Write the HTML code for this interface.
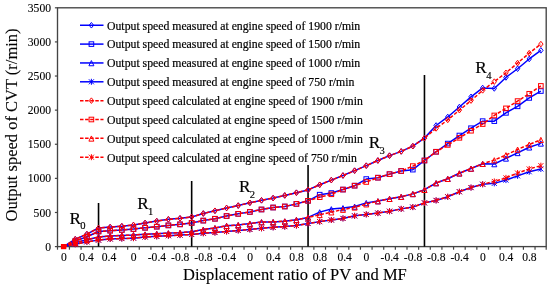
<!DOCTYPE html>
<html><head><meta charset="utf-8"><style>
html,body{margin:0;padding:0;background:#fff;}
body{width:550px;height:288px;overflow:hidden;}
svg{display:block;}
text{font-family:"Liberation Serif","Times New Roman",serif;fill:#000;stroke:#000;stroke-width:0.25px;}
.tk{font-size:11.6px;stroke-width:0.1px;}
.lg{font-size:11.75px;stroke-width:0.2px;}
.at{font-size:16.5px;stroke-width:0.12px;}
.rl{font-size:17.2px;stroke-width:0.15px;}
.rs{font-size:10.6px;}
</style></head><body>
<svg width="550" height="288" viewBox="0 0 550 288">
<rect x="57.5" y="7.8" width="488.70000000000005" height="238.79999999999998" fill="none" stroke="#444" stroke-width="1.35"/>
<line x1="54.9" y1="246.60" x2="57.5" y2="246.60" stroke="#444" stroke-width="1.2"/>
<text x="51" y="250.70" text-anchor="end" class="tk">0</text>
<line x1="54.9" y1="212.49" x2="57.5" y2="212.49" stroke="#444" stroke-width="1.2"/>
<text x="51" y="216.59" text-anchor="end" class="tk">500</text>
<line x1="54.9" y1="178.37" x2="57.5" y2="178.37" stroke="#444" stroke-width="1.2"/>
<text x="51" y="182.47" text-anchor="end" class="tk">1000</text>
<line x1="54.9" y1="144.26" x2="57.5" y2="144.26" stroke="#444" stroke-width="1.2"/>
<text x="51" y="148.36" text-anchor="end" class="tk">1500</text>
<line x1="54.9" y1="110.14" x2="57.5" y2="110.14" stroke="#444" stroke-width="1.2"/>
<text x="51" y="114.24" text-anchor="end" class="tk">2000</text>
<line x1="54.9" y1="76.03" x2="57.5" y2="76.03" stroke="#444" stroke-width="1.2"/>
<text x="51" y="80.13" text-anchor="end" class="tk">2500</text>
<line x1="54.9" y1="41.91" x2="57.5" y2="41.91" stroke="#444" stroke-width="1.2"/>
<text x="51" y="46.01" text-anchor="end" class="tk">3000</text>
<line x1="54.9" y1="7.80" x2="57.5" y2="7.80" stroke="#444" stroke-width="1.2"/>
<text x="51" y="11.90" text-anchor="end" class="tk">3500</text>
<line x1="69.44" y1="246.6" x2="69.44" y2="249.7" stroke="#444" stroke-width="1.2"/>
<line x1="81.08" y1="246.6" x2="81.08" y2="249.7" stroke="#444" stroke-width="1.2"/>
<line x1="92.72" y1="246.6" x2="92.72" y2="249.7" stroke="#444" stroke-width="1.2"/>
<line x1="104.36" y1="246.6" x2="104.36" y2="249.7" stroke="#444" stroke-width="1.2"/>
<line x1="116.00" y1="246.6" x2="116.00" y2="249.7" stroke="#444" stroke-width="1.2"/>
<line x1="127.64" y1="246.6" x2="127.64" y2="249.7" stroke="#444" stroke-width="1.2"/>
<line x1="139.28" y1="246.6" x2="139.28" y2="249.7" stroke="#444" stroke-width="1.2"/>
<line x1="150.92" y1="246.6" x2="150.92" y2="249.7" stroke="#444" stroke-width="1.2"/>
<line x1="162.56" y1="246.6" x2="162.56" y2="249.7" stroke="#444" stroke-width="1.2"/>
<line x1="174.20" y1="246.6" x2="174.20" y2="249.7" stroke="#444" stroke-width="1.2"/>
<line x1="185.84" y1="246.6" x2="185.84" y2="249.7" stroke="#444" stroke-width="1.2"/>
<line x1="197.48" y1="246.6" x2="197.48" y2="249.7" stroke="#444" stroke-width="1.2"/>
<line x1="209.12" y1="246.6" x2="209.12" y2="249.7" stroke="#444" stroke-width="1.2"/>
<line x1="220.76" y1="246.6" x2="220.76" y2="249.7" stroke="#444" stroke-width="1.2"/>
<line x1="232.40" y1="246.6" x2="232.40" y2="249.7" stroke="#444" stroke-width="1.2"/>
<line x1="244.04" y1="246.6" x2="244.04" y2="249.7" stroke="#444" stroke-width="1.2"/>
<line x1="255.68" y1="246.6" x2="255.68" y2="249.7" stroke="#444" stroke-width="1.2"/>
<line x1="267.32" y1="246.6" x2="267.32" y2="249.7" stroke="#444" stroke-width="1.2"/>
<line x1="278.96" y1="246.6" x2="278.96" y2="249.7" stroke="#444" stroke-width="1.2"/>
<line x1="290.60" y1="246.6" x2="290.60" y2="249.7" stroke="#444" stroke-width="1.2"/>
<line x1="302.24" y1="246.6" x2="302.24" y2="249.7" stroke="#444" stroke-width="1.2"/>
<line x1="313.88" y1="246.6" x2="313.88" y2="249.7" stroke="#444" stroke-width="1.2"/>
<line x1="325.52" y1="246.6" x2="325.52" y2="249.7" stroke="#444" stroke-width="1.2"/>
<line x1="337.16" y1="246.6" x2="337.16" y2="249.7" stroke="#444" stroke-width="1.2"/>
<line x1="348.80" y1="246.6" x2="348.80" y2="249.7" stroke="#444" stroke-width="1.2"/>
<line x1="360.44" y1="246.6" x2="360.44" y2="249.7" stroke="#444" stroke-width="1.2"/>
<line x1="372.08" y1="246.6" x2="372.08" y2="249.7" stroke="#444" stroke-width="1.2"/>
<line x1="383.72" y1="246.6" x2="383.72" y2="249.7" stroke="#444" stroke-width="1.2"/>
<line x1="395.36" y1="246.6" x2="395.36" y2="249.7" stroke="#444" stroke-width="1.2"/>
<line x1="407.00" y1="246.6" x2="407.00" y2="249.7" stroke="#444" stroke-width="1.2"/>
<line x1="418.64" y1="246.6" x2="418.64" y2="249.7" stroke="#444" stroke-width="1.2"/>
<line x1="430.28" y1="246.6" x2="430.28" y2="249.7" stroke="#444" stroke-width="1.2"/>
<line x1="441.92" y1="246.6" x2="441.92" y2="249.7" stroke="#444" stroke-width="1.2"/>
<line x1="453.56" y1="246.6" x2="453.56" y2="249.7" stroke="#444" stroke-width="1.2"/>
<line x1="465.20" y1="246.6" x2="465.20" y2="249.7" stroke="#444" stroke-width="1.2"/>
<line x1="476.84" y1="246.6" x2="476.84" y2="249.7" stroke="#444" stroke-width="1.2"/>
<line x1="488.48" y1="246.6" x2="488.48" y2="249.7" stroke="#444" stroke-width="1.2"/>
<line x1="500.12" y1="246.6" x2="500.12" y2="249.7" stroke="#444" stroke-width="1.2"/>
<line x1="511.76" y1="246.6" x2="511.76" y2="249.7" stroke="#444" stroke-width="1.2"/>
<line x1="523.40" y1="246.6" x2="523.40" y2="249.7" stroke="#444" stroke-width="1.2"/>
<line x1="535.04" y1="246.6" x2="535.04" y2="249.7" stroke="#444" stroke-width="1.2"/>
<line x1="57.50" y1="246.6" x2="57.50" y2="249.7" stroke="#444" stroke-width="1.2"/>
<line x1="546.20" y1="246.6" x2="546.20" y2="249.7" stroke="#444" stroke-width="1.2"/>
<text x="63.82" y="261.4" text-anchor="middle" class="tk">0</text>
<text x="86.50" y="261.4" text-anchor="middle" class="tk">0.4</text>
<text x="108.98" y="261.4" text-anchor="middle" class="tk">0.4</text>
<text x="133.66" y="261.4" text-anchor="middle" class="tk">0</text>
<text x="156.94" y="261.4" text-anchor="middle" class="tk">-0.4</text>
<text x="180.22" y="261.4" text-anchor="middle" class="tk">-0.8</text>
<text x="203.50" y="261.4" text-anchor="middle" class="tk">-0.8</text>
<text x="226.78" y="261.4" text-anchor="middle" class="tk">-0.4</text>
<text x="250.06" y="261.4" text-anchor="middle" class="tk">0</text>
<text x="273.34" y="261.4" text-anchor="middle" class="tk">0.4</text>
<text x="296.62" y="261.4" text-anchor="middle" class="tk">0.8</text>
<text x="319.90" y="261.4" text-anchor="middle" class="tk">0.8</text>
<text x="344.68" y="261.4" text-anchor="middle" class="tk">0.4</text>
<text x="366.46" y="261.4" text-anchor="middle" class="tk">0</text>
<text x="389.74" y="261.4" text-anchor="middle" class="tk">-0.4</text>
<text x="413.02" y="261.4" text-anchor="middle" class="tk">-0.8</text>
<text x="436.30" y="261.4" text-anchor="middle" class="tk">-0.8</text>
<text x="459.58" y="261.4" text-anchor="middle" class="tk">-0.4</text>
<text x="482.86" y="261.4" text-anchor="middle" class="tk">0</text>
<text x="506.14" y="261.4" text-anchor="middle" class="tk">0.4</text>
<text x="529.42" y="261.4" text-anchor="middle" class="tk">0.8</text>
<line x1="98.54" y1="203" x2="98.54" y2="246.6" stroke="#000" stroke-width="1.6"/>
<line x1="191.66" y1="181" x2="191.66" y2="246.6" stroke="#000" stroke-width="1.6"/>
<line x1="308.06" y1="165" x2="308.06" y2="246.6" stroke="#000" stroke-width="1.6"/>
<line x1="424.46" y1="75" x2="424.46" y2="246.6" stroke="#000" stroke-width="1.6"/>
<text x="69.4" y="223.5" class="rl">R<tspan class="rs" dx="-0.6" dy="5.7">0</tspan></text>
<text x="137.20000000000002" y="209.3" class="rl">R<tspan class="rs" dx="-0.6" dy="5.7">1</tspan></text>
<text x="238.9" y="191.9" class="rl">R<tspan class="rs" dx="-0.6" dy="5.7">2</tspan></text>
<text x="368.7" y="148.1" class="rl">R<tspan class="rs" dx="-0.6" dy="5.7">3</tspan></text>
<text x="475.29999999999995" y="73.2" class="rl">R<tspan class="rs" dx="-0.6" dy="5.7">4</tspan></text>
<polyline points="63.62,246.60 75.26,244.21 86.90,241.82 98.54,240.12 110.18,238.96 121.82,238.55 133.46,238.14 145.10,236.91 156.74,236.37 168.38,235.68 180.02,235.07 191.66,234.52 203.30,233.23 214.94,232.54 226.58,231.45 238.22,230.43 249.86,229.41 261.50,228.31 273.14,227.36 284.78,226.61 296.42,225.52 308.06,223.54 319.70,221.63 331.34,219.99 342.98,218.42 354.62,215.83 366.26,214.40 377.90,213.10 389.54,211.26 401.18,208.87 412.82,207.10 424.46,202.87 436.10,200.41 447.74,196.79 459.38,191.74 471.02,187.58 482.66,184.24 494.30,183.35 505.94,180.08 517.58,175.85 529.22,171.75 540.86,168.96" fill="none" stroke="#0000ff" stroke-width="1.5" stroke-linejoin="round"/>
<path d="M72.76 241.71L77.76 246.71M77.76 241.71L72.76 246.71M75.26 241.21L75.26 247.21" fill="none" stroke="#0000ff" stroke-width="1.0"/>
<path d="M84.40 239.32L89.40 244.32M89.40 239.32L84.40 244.32M86.90 238.82L86.90 244.82" fill="none" stroke="#0000ff" stroke-width="1.0"/>
<path d="M96.04 237.62L101.04 242.62M101.04 237.62L96.04 242.62M98.54 237.12L98.54 243.12" fill="none" stroke="#0000ff" stroke-width="1.0"/>
<path d="M107.68 236.46L112.68 241.46M112.68 236.46L107.68 241.46M110.18 235.96L110.18 241.96" fill="none" stroke="#0000ff" stroke-width="1.0"/>
<path d="M119.32 236.05L124.32 241.05M124.32 236.05L119.32 241.05M121.82 235.55L121.82 241.55" fill="none" stroke="#0000ff" stroke-width="1.0"/>
<path d="M130.96 235.64L135.96 240.64M135.96 235.64L130.96 240.64M133.46 235.14L133.46 241.14" fill="none" stroke="#0000ff" stroke-width="1.0"/>
<path d="M142.60 234.41L147.60 239.41M147.60 234.41L142.60 239.41M145.10 233.91L145.10 239.91" fill="none" stroke="#0000ff" stroke-width="1.0"/>
<path d="M154.24 233.87L159.24 238.87M159.24 233.87L154.24 238.87M156.74 233.37L156.74 239.37" fill="none" stroke="#0000ff" stroke-width="1.0"/>
<path d="M165.88 233.18L170.88 238.18M170.88 233.18L165.88 238.18M168.38 232.68L168.38 238.68" fill="none" stroke="#0000ff" stroke-width="1.0"/>
<path d="M177.52 232.57L182.52 237.57M182.52 232.57L177.52 237.57M180.02 232.07L180.02 238.07" fill="none" stroke="#0000ff" stroke-width="1.0"/>
<path d="M189.16 232.02L194.16 237.02M194.16 232.02L189.16 237.02M191.66 231.52L191.66 237.52" fill="none" stroke="#0000ff" stroke-width="1.0"/>
<path d="M200.80 230.73L205.80 235.73M205.80 230.73L200.80 235.73M203.30 230.23L203.30 236.23" fill="none" stroke="#0000ff" stroke-width="1.0"/>
<path d="M212.44 230.04L217.44 235.04M217.44 230.04L212.44 235.04M214.94 229.54L214.94 235.54" fill="none" stroke="#0000ff" stroke-width="1.0"/>
<path d="M224.08 228.95L229.08 233.95M229.08 228.95L224.08 233.95M226.58 228.45L226.58 234.45" fill="none" stroke="#0000ff" stroke-width="1.0"/>
<path d="M235.72 227.93L240.72 232.93M240.72 227.93L235.72 232.93M238.22 227.43L238.22 233.43" fill="none" stroke="#0000ff" stroke-width="1.0"/>
<path d="M247.36 226.91L252.36 231.91M252.36 226.91L247.36 231.91M249.86 226.41L249.86 232.41" fill="none" stroke="#0000ff" stroke-width="1.0"/>
<path d="M259.00 225.81L264.00 230.81M264.00 225.81L259.00 230.81M261.50 225.31L261.50 231.31" fill="none" stroke="#0000ff" stroke-width="1.0"/>
<path d="M270.64 224.86L275.64 229.86M275.64 224.86L270.64 229.86M273.14 224.36L273.14 230.36" fill="none" stroke="#0000ff" stroke-width="1.0"/>
<path d="M282.28 224.11L287.28 229.11M287.28 224.11L282.28 229.11M284.78 223.61L284.78 229.61" fill="none" stroke="#0000ff" stroke-width="1.0"/>
<path d="M293.92 223.02L298.92 228.02M298.92 223.02L293.92 228.02M296.42 222.52L296.42 228.52" fill="none" stroke="#0000ff" stroke-width="1.0"/>
<path d="M305.56 221.04L310.56 226.04M310.56 221.04L305.56 226.04M308.06 220.54L308.06 226.54" fill="none" stroke="#0000ff" stroke-width="1.0"/>
<path d="M317.20 219.13L322.20 224.13M322.20 219.13L317.20 224.13M319.70 218.63L319.70 224.63" fill="none" stroke="#0000ff" stroke-width="1.0"/>
<path d="M328.84 217.49L333.84 222.49M333.84 217.49L328.84 222.49M331.34 216.99L331.34 222.99" fill="none" stroke="#0000ff" stroke-width="1.0"/>
<path d="M340.48 215.92L345.48 220.92M345.48 215.92L340.48 220.92M342.98 215.42L342.98 221.42" fill="none" stroke="#0000ff" stroke-width="1.0"/>
<path d="M352.12 213.33L357.12 218.33M357.12 213.33L352.12 218.33M354.62 212.83L354.62 218.83" fill="none" stroke="#0000ff" stroke-width="1.0"/>
<path d="M363.76 211.90L368.76 216.90M368.76 211.90L363.76 216.90M366.26 211.40L366.26 217.40" fill="none" stroke="#0000ff" stroke-width="1.0"/>
<path d="M375.40 210.60L380.40 215.60M380.40 210.60L375.40 215.60M377.90 210.10L377.90 216.10" fill="none" stroke="#0000ff" stroke-width="1.0"/>
<path d="M387.04 208.76L392.04 213.76M392.04 208.76L387.04 213.76M389.54 208.26L389.54 214.26" fill="none" stroke="#0000ff" stroke-width="1.0"/>
<path d="M398.68 206.37L403.68 211.37M403.68 206.37L398.68 211.37M401.18 205.87L401.18 211.87" fill="none" stroke="#0000ff" stroke-width="1.0"/>
<path d="M410.32 204.60L415.32 209.60M415.32 204.60L410.32 209.60M412.82 204.10L412.82 210.10" fill="none" stroke="#0000ff" stroke-width="1.0"/>
<path d="M421.96 200.37L426.96 205.37M426.96 200.37L421.96 205.37M424.46 199.87L424.46 205.87" fill="none" stroke="#0000ff" stroke-width="1.0"/>
<path d="M433.60 197.91L438.60 202.91M438.60 197.91L433.60 202.91M436.10 197.41L436.10 203.41" fill="none" stroke="#0000ff" stroke-width="1.0"/>
<path d="M445.24 194.29L450.24 199.29M450.24 194.29L445.24 199.29M447.74 193.79L447.74 199.79" fill="none" stroke="#0000ff" stroke-width="1.0"/>
<path d="M456.88 189.24L461.88 194.24M461.88 189.24L456.88 194.24M459.38 188.74L459.38 194.74" fill="none" stroke="#0000ff" stroke-width="1.0"/>
<path d="M468.52 185.08L473.52 190.08M473.52 185.08L468.52 190.08M471.02 184.58L471.02 190.58" fill="none" stroke="#0000ff" stroke-width="1.0"/>
<path d="M480.16 181.74L485.16 186.74M485.16 181.74L480.16 186.74M482.66 181.24L482.66 187.24" fill="none" stroke="#0000ff" stroke-width="1.0"/>
<path d="M491.80 180.85L496.80 185.85M496.80 180.85L491.80 185.85M494.30 180.35L494.30 186.35" fill="none" stroke="#0000ff" stroke-width="1.0"/>
<path d="M503.44 177.58L508.44 182.58M508.44 177.58L503.44 182.58M505.94 177.08L505.94 183.08" fill="none" stroke="#0000ff" stroke-width="1.0"/>
<path d="M515.08 173.35L520.08 178.35M520.08 173.35L515.08 178.35M517.58 172.85L517.58 178.85" fill="none" stroke="#0000ff" stroke-width="1.0"/>
<path d="M526.72 169.25L531.72 174.25M531.72 169.25L526.72 174.25M529.22 168.75L529.22 174.75" fill="none" stroke="#0000ff" stroke-width="1.0"/>
<path d="M538.36 166.46L543.36 171.46M543.36 166.46L538.36 171.46M540.86 165.96L540.86 171.96" fill="none" stroke="#0000ff" stroke-width="1.0"/>
<polyline points="63.62,246.60 75.26,242.85 86.90,239.78 98.54,236.98 110.18,235.89 121.82,235.41 133.46,235.00 145.10,234.32 156.74,233.70 168.38,233.09 180.02,232.68 191.66,231.73 203.30,229.54 214.94,227.97 226.58,225.72 238.22,224.90 249.86,223.61 261.50,222.04 273.14,221.90 284.78,221.22 296.42,219.79 308.06,217.40 319.70,212.14 331.34,209.07 342.98,207.98 354.62,206.48 366.26,202.87 377.90,201.09 389.54,198.70 401.18,196.66 412.82,193.86 424.46,189.70 436.10,183.01 447.74,178.71 459.38,173.25 471.02,168.48 482.66,163.70 494.30,163.98 505.94,158.38 517.58,152.85 529.22,147.26 540.86,143.37" fill="none" stroke="#0000ff" stroke-width="1.5" stroke-linejoin="round"/>
<path d="M75.26 240.45L77.76 245.65L72.76 245.65Z" fill="none" stroke="#0000ff" stroke-width="1.0"/>
<path d="M86.90 237.38L89.40 242.58L84.40 242.58Z" fill="none" stroke="#0000ff" stroke-width="1.0"/>
<path d="M98.54 234.58L101.04 239.78L96.04 239.78Z" fill="none" stroke="#0000ff" stroke-width="1.0"/>
<path d="M110.18 233.49L112.68 238.69L107.68 238.69Z" fill="none" stroke="#0000ff" stroke-width="1.0"/>
<path d="M121.82 233.01L124.32 238.21L119.32 238.21Z" fill="none" stroke="#0000ff" stroke-width="1.0"/>
<path d="M133.46 232.60L135.96 237.80L130.96 237.80Z" fill="none" stroke="#0000ff" stroke-width="1.0"/>
<path d="M145.10 231.92L147.60 237.12L142.60 237.12Z" fill="none" stroke="#0000ff" stroke-width="1.0"/>
<path d="M156.74 231.30L159.24 236.50L154.24 236.50Z" fill="none" stroke="#0000ff" stroke-width="1.0"/>
<path d="M168.38 230.69L170.88 235.89L165.88 235.89Z" fill="none" stroke="#0000ff" stroke-width="1.0"/>
<path d="M180.02 230.28L182.52 235.48L177.52 235.48Z" fill="none" stroke="#0000ff" stroke-width="1.0"/>
<path d="M191.66 229.33L194.16 234.53L189.16 234.53Z" fill="none" stroke="#0000ff" stroke-width="1.0"/>
<path d="M203.30 227.14L205.80 232.34L200.80 232.34Z" fill="none" stroke="#0000ff" stroke-width="1.0"/>
<path d="M214.94 225.57L217.44 230.77L212.44 230.77Z" fill="none" stroke="#0000ff" stroke-width="1.0"/>
<path d="M226.58 223.32L229.08 228.52L224.08 228.52Z" fill="none" stroke="#0000ff" stroke-width="1.0"/>
<path d="M238.22 222.50L240.72 227.70L235.72 227.70Z" fill="none" stroke="#0000ff" stroke-width="1.0"/>
<path d="M249.86 221.21L252.36 226.41L247.36 226.41Z" fill="none" stroke="#0000ff" stroke-width="1.0"/>
<path d="M261.50 219.64L264.00 224.84L259.00 224.84Z" fill="none" stroke="#0000ff" stroke-width="1.0"/>
<path d="M273.14 219.50L275.64 224.70L270.64 224.70Z" fill="none" stroke="#0000ff" stroke-width="1.0"/>
<path d="M284.78 218.82L287.28 224.02L282.28 224.02Z" fill="none" stroke="#0000ff" stroke-width="1.0"/>
<path d="M296.42 217.39L298.92 222.59L293.92 222.59Z" fill="none" stroke="#0000ff" stroke-width="1.0"/>
<path d="M308.06 215.00L310.56 220.20L305.56 220.20Z" fill="none" stroke="#0000ff" stroke-width="1.0"/>
<path d="M319.70 209.74L322.20 214.94L317.20 214.94Z" fill="none" stroke="#0000ff" stroke-width="1.0"/>
<path d="M331.34 206.67L333.84 211.87L328.84 211.87Z" fill="none" stroke="#0000ff" stroke-width="1.0"/>
<path d="M342.98 205.58L345.48 210.78L340.48 210.78Z" fill="none" stroke="#0000ff" stroke-width="1.0"/>
<path d="M354.62 204.08L357.12 209.28L352.12 209.28Z" fill="none" stroke="#0000ff" stroke-width="1.0"/>
<path d="M366.26 200.47L368.76 205.67L363.76 205.67Z" fill="none" stroke="#0000ff" stroke-width="1.0"/>
<path d="M377.90 198.69L380.40 203.89L375.40 203.89Z" fill="none" stroke="#0000ff" stroke-width="1.0"/>
<path d="M389.54 196.30L392.04 201.50L387.04 201.50Z" fill="none" stroke="#0000ff" stroke-width="1.0"/>
<path d="M401.18 194.26L403.68 199.46L398.68 199.46Z" fill="none" stroke="#0000ff" stroke-width="1.0"/>
<path d="M412.82 191.46L415.32 196.66L410.32 196.66Z" fill="none" stroke="#0000ff" stroke-width="1.0"/>
<path d="M424.46 187.30L426.96 192.50L421.96 192.50Z" fill="none" stroke="#0000ff" stroke-width="1.0"/>
<path d="M436.10 180.61L438.60 185.81L433.60 185.81Z" fill="none" stroke="#0000ff" stroke-width="1.0"/>
<path d="M447.74 176.31L450.24 181.51L445.24 181.51Z" fill="none" stroke="#0000ff" stroke-width="1.0"/>
<path d="M459.38 170.85L461.88 176.05L456.88 176.05Z" fill="none" stroke="#0000ff" stroke-width="1.0"/>
<path d="M471.02 166.08L473.52 171.28L468.52 171.28Z" fill="none" stroke="#0000ff" stroke-width="1.0"/>
<path d="M482.66 161.30L485.16 166.50L480.16 166.50Z" fill="none" stroke="#0000ff" stroke-width="1.0"/>
<path d="M494.30 161.58L496.80 166.78L491.80 166.78Z" fill="none" stroke="#0000ff" stroke-width="1.0"/>
<path d="M505.94 155.98L508.44 161.18L503.44 161.18Z" fill="none" stroke="#0000ff" stroke-width="1.0"/>
<path d="M517.58 150.45L520.08 155.65L515.08 155.65Z" fill="none" stroke="#0000ff" stroke-width="1.0"/>
<path d="M529.22 144.86L531.72 150.06L526.72 150.06Z" fill="none" stroke="#0000ff" stroke-width="1.0"/>
<path d="M540.86 140.97L543.36 146.17L538.36 146.17Z" fill="none" stroke="#0000ff" stroke-width="1.0"/>
<polyline points="63.62,246.60 75.26,241.14 86.90,236.71 98.54,231.45 110.18,230.63 121.82,229.95 133.46,229.07 145.10,227.77 156.74,226.68 168.38,225.38 180.02,224.36 191.66,222.92 203.30,220.60 214.94,218.76 226.58,216.03 238.22,213.85 249.86,211.94 261.50,209.48 273.14,207.51 284.78,206.48 296.42,203.89 308.06,200.82 319.70,194.68 331.34,193.04 342.98,189.56 354.62,185.67 366.26,179.05 377.90,177.69 389.54,174.14 401.18,171.00 412.82,169.64 424.46,160.50 436.10,151.76 447.74,143.57 459.38,135.52 471.02,128.22 482.66,121.13 494.30,121.13 505.94,112.87 517.58,106.32 529.22,97.93 540.86,91.04" fill="none" stroke="#0000ff" stroke-width="1.5" stroke-linejoin="round"/>
<rect x="72.96" y="238.84" width="4.60" height="4.60" fill="none" stroke="#0000ff" stroke-width="1.0"/>
<rect x="84.60" y="234.41" width="4.60" height="4.60" fill="none" stroke="#0000ff" stroke-width="1.0"/>
<rect x="96.24" y="229.15" width="4.60" height="4.60" fill="none" stroke="#0000ff" stroke-width="1.0"/>
<rect x="107.88" y="228.33" width="4.60" height="4.60" fill="none" stroke="#0000ff" stroke-width="1.0"/>
<rect x="119.52" y="227.65" width="4.60" height="4.60" fill="none" stroke="#0000ff" stroke-width="1.0"/>
<rect x="131.16" y="226.77" width="4.60" height="4.60" fill="none" stroke="#0000ff" stroke-width="1.0"/>
<rect x="142.80" y="225.47" width="4.60" height="4.60" fill="none" stroke="#0000ff" stroke-width="1.0"/>
<rect x="154.44" y="224.38" width="4.60" height="4.60" fill="none" stroke="#0000ff" stroke-width="1.0"/>
<rect x="166.08" y="223.08" width="4.60" height="4.60" fill="none" stroke="#0000ff" stroke-width="1.0"/>
<rect x="177.72" y="222.06" width="4.60" height="4.60" fill="none" stroke="#0000ff" stroke-width="1.0"/>
<rect x="189.36" y="220.62" width="4.60" height="4.60" fill="none" stroke="#0000ff" stroke-width="1.0"/>
<rect x="201.00" y="218.30" width="4.60" height="4.60" fill="none" stroke="#0000ff" stroke-width="1.0"/>
<rect x="212.64" y="216.46" width="4.60" height="4.60" fill="none" stroke="#0000ff" stroke-width="1.0"/>
<rect x="224.28" y="213.73" width="4.60" height="4.60" fill="none" stroke="#0000ff" stroke-width="1.0"/>
<rect x="235.92" y="211.55" width="4.60" height="4.60" fill="none" stroke="#0000ff" stroke-width="1.0"/>
<rect x="247.56" y="209.64" width="4.60" height="4.60" fill="none" stroke="#0000ff" stroke-width="1.0"/>
<rect x="259.20" y="207.18" width="4.60" height="4.60" fill="none" stroke="#0000ff" stroke-width="1.0"/>
<rect x="270.84" y="205.21" width="4.60" height="4.60" fill="none" stroke="#0000ff" stroke-width="1.0"/>
<rect x="282.48" y="204.18" width="4.60" height="4.60" fill="none" stroke="#0000ff" stroke-width="1.0"/>
<rect x="294.12" y="201.59" width="4.60" height="4.60" fill="none" stroke="#0000ff" stroke-width="1.0"/>
<rect x="305.76" y="198.52" width="4.60" height="4.60" fill="none" stroke="#0000ff" stroke-width="1.0"/>
<rect x="317.40" y="192.38" width="4.60" height="4.60" fill="none" stroke="#0000ff" stroke-width="1.0"/>
<rect x="329.04" y="190.74" width="4.60" height="4.60" fill="none" stroke="#0000ff" stroke-width="1.0"/>
<rect x="340.68" y="187.26" width="4.60" height="4.60" fill="none" stroke="#0000ff" stroke-width="1.0"/>
<rect x="352.32" y="183.37" width="4.60" height="4.60" fill="none" stroke="#0000ff" stroke-width="1.0"/>
<rect x="363.96" y="176.75" width="4.60" height="4.60" fill="none" stroke="#0000ff" stroke-width="1.0"/>
<rect x="375.60" y="175.39" width="4.60" height="4.60" fill="none" stroke="#0000ff" stroke-width="1.0"/>
<rect x="387.24" y="171.84" width="4.60" height="4.60" fill="none" stroke="#0000ff" stroke-width="1.0"/>
<rect x="398.88" y="168.70" width="4.60" height="4.60" fill="none" stroke="#0000ff" stroke-width="1.0"/>
<rect x="410.52" y="167.34" width="4.60" height="4.60" fill="none" stroke="#0000ff" stroke-width="1.0"/>
<rect x="422.16" y="158.20" width="4.60" height="4.60" fill="none" stroke="#0000ff" stroke-width="1.0"/>
<rect x="433.80" y="149.46" width="4.60" height="4.60" fill="none" stroke="#0000ff" stroke-width="1.0"/>
<rect x="445.44" y="141.27" width="4.60" height="4.60" fill="none" stroke="#0000ff" stroke-width="1.0"/>
<rect x="457.08" y="133.22" width="4.60" height="4.60" fill="none" stroke="#0000ff" stroke-width="1.0"/>
<rect x="468.72" y="125.92" width="4.60" height="4.60" fill="none" stroke="#0000ff" stroke-width="1.0"/>
<rect x="480.36" y="118.83" width="4.60" height="4.60" fill="none" stroke="#0000ff" stroke-width="1.0"/>
<rect x="492.00" y="118.83" width="4.60" height="4.60" fill="none" stroke="#0000ff" stroke-width="1.0"/>
<rect x="503.64" y="110.57" width="4.60" height="4.60" fill="none" stroke="#0000ff" stroke-width="1.0"/>
<rect x="515.28" y="104.02" width="4.60" height="4.60" fill="none" stroke="#0000ff" stroke-width="1.0"/>
<rect x="526.92" y="95.63" width="4.60" height="4.60" fill="none" stroke="#0000ff" stroke-width="1.0"/>
<rect x="538.56" y="88.74" width="4.60" height="4.60" fill="none" stroke="#0000ff" stroke-width="1.0"/>
<polyline points="63.62,246.60 75.26,239.23 86.90,234.11 98.54,228.04 110.18,227.09 121.82,226.20 133.46,225.04 145.10,222.99 156.74,221.08 168.38,219.31 180.02,218.35 191.66,216.92 203.30,213.51 214.94,210.78 226.58,207.98 238.22,205.59 249.86,202.80 261.50,200.34 273.14,198.09 284.78,195.43 296.42,192.70 308.06,189.90 319.70,184.78 331.34,180.08 342.98,175.51 354.62,170.66 366.26,165.68 377.90,160.50 389.54,155.65 401.18,151.42 412.82,146.17 424.46,138.12 436.10,125.49 447.74,116.97 459.38,107.00 471.02,96.84 482.66,87.97 494.30,88.45 505.94,77.46 517.58,68.73 529.22,58.97 540.86,50.37" fill="none" stroke="#0000ff" stroke-width="1.5" stroke-linejoin="round"/>
<path d="M75.26 236.43L77.46 239.23L75.26 242.03L73.06 239.23Z" fill="none" stroke="#0000ff" stroke-width="1.0"/>
<path d="M86.90 231.31L89.10 234.11L86.90 236.91L84.70 234.11Z" fill="none" stroke="#0000ff" stroke-width="1.0"/>
<path d="M98.54 225.24L100.74 228.04L98.54 230.84L96.34 228.04Z" fill="none" stroke="#0000ff" stroke-width="1.0"/>
<path d="M110.18 224.29L112.38 227.09L110.18 229.89L107.98 227.09Z" fill="none" stroke="#0000ff" stroke-width="1.0"/>
<path d="M121.82 223.40L124.02 226.20L121.82 229.00L119.62 226.20Z" fill="none" stroke="#0000ff" stroke-width="1.0"/>
<path d="M133.46 222.24L135.66 225.04L133.46 227.84L131.26 225.04Z" fill="none" stroke="#0000ff" stroke-width="1.0"/>
<path d="M145.10 220.19L147.30 222.99L145.10 225.79L142.90 222.99Z" fill="none" stroke="#0000ff" stroke-width="1.0"/>
<path d="M156.74 218.28L158.94 221.08L156.74 223.88L154.54 221.08Z" fill="none" stroke="#0000ff" stroke-width="1.0"/>
<path d="M168.38 216.51L170.58 219.31L168.38 222.11L166.18 219.31Z" fill="none" stroke="#0000ff" stroke-width="1.0"/>
<path d="M180.02 215.55L182.22 218.35L180.02 221.15L177.82 218.35Z" fill="none" stroke="#0000ff" stroke-width="1.0"/>
<path d="M191.66 214.12L193.86 216.92L191.66 219.72L189.46 216.92Z" fill="none" stroke="#0000ff" stroke-width="1.0"/>
<path d="M203.30 210.71L205.50 213.51L203.30 216.31L201.10 213.51Z" fill="none" stroke="#0000ff" stroke-width="1.0"/>
<path d="M214.94 207.98L217.14 210.78L214.94 213.58L212.74 210.78Z" fill="none" stroke="#0000ff" stroke-width="1.0"/>
<path d="M226.58 205.18L228.78 207.98L226.58 210.78L224.38 207.98Z" fill="none" stroke="#0000ff" stroke-width="1.0"/>
<path d="M238.22 202.79L240.42 205.59L238.22 208.39L236.02 205.59Z" fill="none" stroke="#0000ff" stroke-width="1.0"/>
<path d="M249.86 200.00L252.06 202.80L249.86 205.60L247.66 202.80Z" fill="none" stroke="#0000ff" stroke-width="1.0"/>
<path d="M261.50 197.54L263.70 200.34L261.50 203.14L259.30 200.34Z" fill="none" stroke="#0000ff" stroke-width="1.0"/>
<path d="M273.14 195.29L275.34 198.09L273.14 200.89L270.94 198.09Z" fill="none" stroke="#0000ff" stroke-width="1.0"/>
<path d="M284.78 192.63L286.98 195.43L284.78 198.23L282.58 195.43Z" fill="none" stroke="#0000ff" stroke-width="1.0"/>
<path d="M296.42 189.90L298.62 192.70L296.42 195.50L294.22 192.70Z" fill="none" stroke="#0000ff" stroke-width="1.0"/>
<path d="M308.06 187.10L310.26 189.90L308.06 192.70L305.86 189.90Z" fill="none" stroke="#0000ff" stroke-width="1.0"/>
<path d="M319.70 181.98L321.90 184.78L319.70 187.58L317.50 184.78Z" fill="none" stroke="#0000ff" stroke-width="1.0"/>
<path d="M331.34 177.28L333.54 180.08L331.34 182.88L329.14 180.08Z" fill="none" stroke="#0000ff" stroke-width="1.0"/>
<path d="M342.98 172.71L345.18 175.51L342.98 178.31L340.78 175.51Z" fill="none" stroke="#0000ff" stroke-width="1.0"/>
<path d="M354.62 167.86L356.82 170.66L354.62 173.46L352.42 170.66Z" fill="none" stroke="#0000ff" stroke-width="1.0"/>
<path d="M366.26 162.88L368.46 165.68L366.26 168.48L364.06 165.68Z" fill="none" stroke="#0000ff" stroke-width="1.0"/>
<path d="M377.90 157.70L380.10 160.50L377.90 163.30L375.70 160.50Z" fill="none" stroke="#0000ff" stroke-width="1.0"/>
<path d="M389.54 152.85L391.74 155.65L389.54 158.45L387.34 155.65Z" fill="none" stroke="#0000ff" stroke-width="1.0"/>
<path d="M401.18 148.62L403.38 151.42L401.18 154.22L398.98 151.42Z" fill="none" stroke="#0000ff" stroke-width="1.0"/>
<path d="M412.82 143.37L415.02 146.17L412.82 148.97L410.62 146.17Z" fill="none" stroke="#0000ff" stroke-width="1.0"/>
<path d="M424.46 135.32L426.66 138.12L424.46 140.92L422.26 138.12Z" fill="none" stroke="#0000ff" stroke-width="1.0"/>
<path d="M436.10 122.69L438.30 125.49L436.10 128.29L433.90 125.49Z" fill="none" stroke="#0000ff" stroke-width="1.0"/>
<path d="M447.74 114.17L449.94 116.97L447.74 119.77L445.54 116.97Z" fill="none" stroke="#0000ff" stroke-width="1.0"/>
<path d="M459.38 104.20L461.58 107.00L459.38 109.80L457.18 107.00Z" fill="none" stroke="#0000ff" stroke-width="1.0"/>
<path d="M471.02 94.04L473.22 96.84L471.02 99.64L468.82 96.84Z" fill="none" stroke="#0000ff" stroke-width="1.0"/>
<path d="M482.66 85.17L484.86 87.97L482.66 90.77L480.46 87.97Z" fill="none" stroke="#0000ff" stroke-width="1.0"/>
<path d="M494.30 85.65L496.50 88.45L494.30 91.25L492.10 88.45Z" fill="none" stroke="#0000ff" stroke-width="1.0"/>
<path d="M505.94 74.66L508.14 77.46L505.94 80.26L503.74 77.46Z" fill="none" stroke="#0000ff" stroke-width="1.0"/>
<path d="M517.58 65.93L519.78 68.73L517.58 71.53L515.38 68.73Z" fill="none" stroke="#0000ff" stroke-width="1.0"/>
<path d="M529.22 56.17L531.42 58.97L529.22 61.77L527.02 58.97Z" fill="none" stroke="#0000ff" stroke-width="1.0"/>
<path d="M540.86 47.57L543.06 50.37L540.86 53.17L538.66 50.37Z" fill="none" stroke="#0000ff" stroke-width="1.0"/>
<polyline points="63.62,246.60 75.26,244.21 86.90,241.82 98.54,240.12 110.18,238.96 121.82,238.55 133.46,238.14 145.10,236.91 156.74,236.37 168.38,235.68 180.02,235.07 191.66,234.52 203.30,233.23 214.94,232.54 226.58,231.45 238.22,230.43 249.86,229.41 261.50,228.31 273.14,227.36 284.78,226.61 296.42,225.52 308.06,223.54 319.70,221.63 331.34,219.99 342.98,218.42 354.62,215.83 366.26,214.40 377.90,213.10 389.54,211.26 401.18,208.87 412.82,207.10 424.46,202.87 436.10,200.41 447.74,196.79 459.38,191.74 471.02,187.58 482.66,184.24 494.30,181.44 505.94,177.89 517.58,173.05 529.22,168.96 540.86,165.68" fill="none" stroke="#ff0000" stroke-width="1.5" stroke-dasharray="3.5 1.8" stroke-linejoin="round"/>
<path d="M72.76 241.71L77.76 246.71M77.76 241.71L72.76 246.71M75.26 241.21L75.26 247.21" fill="none" stroke="#ff0000" stroke-width="1.0"/>
<path d="M84.40 239.32L89.40 244.32M89.40 239.32L84.40 244.32M86.90 238.82L86.90 244.82" fill="none" stroke="#ff0000" stroke-width="1.0"/>
<path d="M96.04 237.62L101.04 242.62M101.04 237.62L96.04 242.62M98.54 237.12L98.54 243.12" fill="none" stroke="#ff0000" stroke-width="1.0"/>
<path d="M107.68 236.46L112.68 241.46M112.68 236.46L107.68 241.46M110.18 235.96L110.18 241.96" fill="none" stroke="#ff0000" stroke-width="1.0"/>
<path d="M119.32 236.05L124.32 241.05M124.32 236.05L119.32 241.05M121.82 235.55L121.82 241.55" fill="none" stroke="#ff0000" stroke-width="1.0"/>
<path d="M130.96 235.64L135.96 240.64M135.96 235.64L130.96 240.64M133.46 235.14L133.46 241.14" fill="none" stroke="#ff0000" stroke-width="1.0"/>
<path d="M142.60 234.41L147.60 239.41M147.60 234.41L142.60 239.41M145.10 233.91L145.10 239.91" fill="none" stroke="#ff0000" stroke-width="1.0"/>
<path d="M154.24 233.87L159.24 238.87M159.24 233.87L154.24 238.87M156.74 233.37L156.74 239.37" fill="none" stroke="#ff0000" stroke-width="1.0"/>
<path d="M165.88 233.18L170.88 238.18M170.88 233.18L165.88 238.18M168.38 232.68L168.38 238.68" fill="none" stroke="#ff0000" stroke-width="1.0"/>
<path d="M177.52 232.57L182.52 237.57M182.52 232.57L177.52 237.57M180.02 232.07L180.02 238.07" fill="none" stroke="#ff0000" stroke-width="1.0"/>
<path d="M189.16 232.02L194.16 237.02M194.16 232.02L189.16 237.02M191.66 231.52L191.66 237.52" fill="none" stroke="#ff0000" stroke-width="1.0"/>
<path d="M200.80 230.73L205.80 235.73M205.80 230.73L200.80 235.73M203.30 230.23L203.30 236.23" fill="none" stroke="#ff0000" stroke-width="1.0"/>
<path d="M212.44 230.04L217.44 235.04M217.44 230.04L212.44 235.04M214.94 229.54L214.94 235.54" fill="none" stroke="#ff0000" stroke-width="1.0"/>
<path d="M224.08 228.95L229.08 233.95M229.08 228.95L224.08 233.95M226.58 228.45L226.58 234.45" fill="none" stroke="#ff0000" stroke-width="1.0"/>
<path d="M235.72 227.93L240.72 232.93M240.72 227.93L235.72 232.93M238.22 227.43L238.22 233.43" fill="none" stroke="#ff0000" stroke-width="1.0"/>
<path d="M247.36 226.91L252.36 231.91M252.36 226.91L247.36 231.91M249.86 226.41L249.86 232.41" fill="none" stroke="#ff0000" stroke-width="1.0"/>
<path d="M259.00 225.81L264.00 230.81M264.00 225.81L259.00 230.81M261.50 225.31L261.50 231.31" fill="none" stroke="#ff0000" stroke-width="1.0"/>
<path d="M270.64 224.86L275.64 229.86M275.64 224.86L270.64 229.86M273.14 224.36L273.14 230.36" fill="none" stroke="#ff0000" stroke-width="1.0"/>
<path d="M282.28 224.11L287.28 229.11M287.28 224.11L282.28 229.11M284.78 223.61L284.78 229.61" fill="none" stroke="#ff0000" stroke-width="1.0"/>
<path d="M293.92 223.02L298.92 228.02M298.92 223.02L293.92 228.02M296.42 222.52L296.42 228.52" fill="none" stroke="#ff0000" stroke-width="1.0"/>
<path d="M305.56 221.04L310.56 226.04M310.56 221.04L305.56 226.04M308.06 220.54L308.06 226.54" fill="none" stroke="#ff0000" stroke-width="1.0"/>
<path d="M317.20 219.13L322.20 224.13M322.20 219.13L317.20 224.13M319.70 218.63L319.70 224.63" fill="none" stroke="#ff0000" stroke-width="1.0"/>
<path d="M328.84 217.49L333.84 222.49M333.84 217.49L328.84 222.49M331.34 216.99L331.34 222.99" fill="none" stroke="#ff0000" stroke-width="1.0"/>
<path d="M340.48 215.92L345.48 220.92M345.48 215.92L340.48 220.92M342.98 215.42L342.98 221.42" fill="none" stroke="#ff0000" stroke-width="1.0"/>
<path d="M352.12 213.33L357.12 218.33M357.12 213.33L352.12 218.33M354.62 212.83L354.62 218.83" fill="none" stroke="#ff0000" stroke-width="1.0"/>
<path d="M363.76 211.90L368.76 216.90M368.76 211.90L363.76 216.90M366.26 211.40L366.26 217.40" fill="none" stroke="#ff0000" stroke-width="1.0"/>
<path d="M375.40 210.60L380.40 215.60M380.40 210.60L375.40 215.60M377.90 210.10L377.90 216.10" fill="none" stroke="#ff0000" stroke-width="1.0"/>
<path d="M387.04 208.76L392.04 213.76M392.04 208.76L387.04 213.76M389.54 208.26L389.54 214.26" fill="none" stroke="#ff0000" stroke-width="1.0"/>
<path d="M398.68 206.37L403.68 211.37M403.68 206.37L398.68 211.37M401.18 205.87L401.18 211.87" fill="none" stroke="#ff0000" stroke-width="1.0"/>
<path d="M410.32 204.60L415.32 209.60M415.32 204.60L410.32 209.60M412.82 204.10L412.82 210.10" fill="none" stroke="#ff0000" stroke-width="1.0"/>
<path d="M421.96 200.37L426.96 205.37M426.96 200.37L421.96 205.37M424.46 199.87L424.46 205.87" fill="none" stroke="#ff0000" stroke-width="1.0"/>
<path d="M433.60 197.91L438.60 202.91M438.60 197.91L433.60 202.91M436.10 197.41L436.10 203.41" fill="none" stroke="#ff0000" stroke-width="1.0"/>
<path d="M445.24 194.29L450.24 199.29M450.24 194.29L445.24 199.29M447.74 193.79L447.74 199.79" fill="none" stroke="#ff0000" stroke-width="1.0"/>
<path d="M456.88 189.24L461.88 194.24M461.88 189.24L456.88 194.24M459.38 188.74L459.38 194.74" fill="none" stroke="#ff0000" stroke-width="1.0"/>
<path d="M468.52 185.08L473.52 190.08M473.52 185.08L468.52 190.08M471.02 184.58L471.02 190.58" fill="none" stroke="#ff0000" stroke-width="1.0"/>
<path d="M480.16 181.74L485.16 186.74M485.16 181.74L480.16 186.74M482.66 181.24L482.66 187.24" fill="none" stroke="#ff0000" stroke-width="1.0"/>
<path d="M491.80 178.94L496.80 183.94M496.80 178.94L491.80 183.94M494.30 178.44L494.30 184.44" fill="none" stroke="#ff0000" stroke-width="1.0"/>
<path d="M503.44 175.39L508.44 180.39M508.44 175.39L503.44 180.39M505.94 174.89L505.94 180.89" fill="none" stroke="#ff0000" stroke-width="1.0"/>
<path d="M515.08 170.55L520.08 175.55M520.08 170.55L515.08 175.55M517.58 170.05L517.58 176.05" fill="none" stroke="#ff0000" stroke-width="1.0"/>
<path d="M526.72 166.46L531.72 171.46M531.72 166.46L526.72 171.46M529.22 165.96L529.22 171.96" fill="none" stroke="#ff0000" stroke-width="1.0"/>
<path d="M538.36 163.18L543.36 168.18M543.36 163.18L538.36 168.18M540.86 162.68L540.86 168.68" fill="none" stroke="#ff0000" stroke-width="1.0"/>
<polyline points="63.62,246.60 75.26,242.85 86.90,239.78 98.54,236.98 110.18,235.89 121.82,235.41 133.46,235.00 145.10,234.32 156.74,233.70 168.38,233.09 180.02,232.68 191.66,231.73 203.30,229.54 214.94,227.97 226.58,225.72 238.22,224.90 249.86,223.61 261.50,222.04 273.14,221.90 284.78,221.22 296.42,219.79 308.06,217.40 319.70,214.81 331.34,212.14 342.98,209.55 354.62,207.30 366.26,204.16 377.90,201.09 389.54,198.70 401.18,196.66 412.82,193.86 424.46,189.70 436.10,183.01 447.74,178.71 459.38,173.25 471.02,168.48 482.66,163.70 494.30,160.09 505.94,155.04 517.58,149.44 529.22,144.46 540.86,139.75" fill="none" stroke="#ff0000" stroke-width="1.5" stroke-dasharray="3.5 1.8" stroke-linejoin="round"/>
<path d="M75.26 240.45L77.76 245.65L72.76 245.65Z" fill="none" stroke="#ff0000" stroke-width="1.0"/>
<path d="M86.90 237.38L89.40 242.58L84.40 242.58Z" fill="none" stroke="#ff0000" stroke-width="1.0"/>
<path d="M98.54 234.58L101.04 239.78L96.04 239.78Z" fill="none" stroke="#ff0000" stroke-width="1.0"/>
<path d="M110.18 233.49L112.68 238.69L107.68 238.69Z" fill="none" stroke="#ff0000" stroke-width="1.0"/>
<path d="M121.82 233.01L124.32 238.21L119.32 238.21Z" fill="none" stroke="#ff0000" stroke-width="1.0"/>
<path d="M133.46 232.60L135.96 237.80L130.96 237.80Z" fill="none" stroke="#ff0000" stroke-width="1.0"/>
<path d="M145.10 231.92L147.60 237.12L142.60 237.12Z" fill="none" stroke="#ff0000" stroke-width="1.0"/>
<path d="M156.74 231.30L159.24 236.50L154.24 236.50Z" fill="none" stroke="#ff0000" stroke-width="1.0"/>
<path d="M168.38 230.69L170.88 235.89L165.88 235.89Z" fill="none" stroke="#ff0000" stroke-width="1.0"/>
<path d="M180.02 230.28L182.52 235.48L177.52 235.48Z" fill="none" stroke="#ff0000" stroke-width="1.0"/>
<path d="M191.66 229.33L194.16 234.53L189.16 234.53Z" fill="none" stroke="#ff0000" stroke-width="1.0"/>
<path d="M203.30 227.14L205.80 232.34L200.80 232.34Z" fill="none" stroke="#ff0000" stroke-width="1.0"/>
<path d="M214.94 225.57L217.44 230.77L212.44 230.77Z" fill="none" stroke="#ff0000" stroke-width="1.0"/>
<path d="M226.58 223.32L229.08 228.52L224.08 228.52Z" fill="none" stroke="#ff0000" stroke-width="1.0"/>
<path d="M238.22 222.50L240.72 227.70L235.72 227.70Z" fill="none" stroke="#ff0000" stroke-width="1.0"/>
<path d="M249.86 221.21L252.36 226.41L247.36 226.41Z" fill="none" stroke="#ff0000" stroke-width="1.0"/>
<path d="M261.50 219.64L264.00 224.84L259.00 224.84Z" fill="none" stroke="#ff0000" stroke-width="1.0"/>
<path d="M273.14 219.50L275.64 224.70L270.64 224.70Z" fill="none" stroke="#ff0000" stroke-width="1.0"/>
<path d="M284.78 218.82L287.28 224.02L282.28 224.02Z" fill="none" stroke="#ff0000" stroke-width="1.0"/>
<path d="M296.42 217.39L298.92 222.59L293.92 222.59Z" fill="none" stroke="#ff0000" stroke-width="1.0"/>
<path d="M308.06 215.00L310.56 220.20L305.56 220.20Z" fill="none" stroke="#ff0000" stroke-width="1.0"/>
<path d="M319.70 212.41L322.20 217.61L317.20 217.61Z" fill="none" stroke="#ff0000" stroke-width="1.0"/>
<path d="M331.34 209.74L333.84 214.94L328.84 214.94Z" fill="none" stroke="#ff0000" stroke-width="1.0"/>
<path d="M342.98 207.15L345.48 212.35L340.48 212.35Z" fill="none" stroke="#ff0000" stroke-width="1.0"/>
<path d="M354.62 204.90L357.12 210.10L352.12 210.10Z" fill="none" stroke="#ff0000" stroke-width="1.0"/>
<path d="M366.26 201.76L368.76 206.96L363.76 206.96Z" fill="none" stroke="#ff0000" stroke-width="1.0"/>
<path d="M377.90 198.69L380.40 203.89L375.40 203.89Z" fill="none" stroke="#ff0000" stroke-width="1.0"/>
<path d="M389.54 196.30L392.04 201.50L387.04 201.50Z" fill="none" stroke="#ff0000" stroke-width="1.0"/>
<path d="M401.18 194.26L403.68 199.46L398.68 199.46Z" fill="none" stroke="#ff0000" stroke-width="1.0"/>
<path d="M412.82 191.46L415.32 196.66L410.32 196.66Z" fill="none" stroke="#ff0000" stroke-width="1.0"/>
<path d="M424.46 187.30L426.96 192.50L421.96 192.50Z" fill="none" stroke="#ff0000" stroke-width="1.0"/>
<path d="M436.10 180.61L438.60 185.81L433.60 185.81Z" fill="none" stroke="#ff0000" stroke-width="1.0"/>
<path d="M447.74 176.31L450.24 181.51L445.24 181.51Z" fill="none" stroke="#ff0000" stroke-width="1.0"/>
<path d="M459.38 170.85L461.88 176.05L456.88 176.05Z" fill="none" stroke="#ff0000" stroke-width="1.0"/>
<path d="M471.02 166.08L473.52 171.28L468.52 171.28Z" fill="none" stroke="#ff0000" stroke-width="1.0"/>
<path d="M482.66 161.30L485.16 166.50L480.16 166.50Z" fill="none" stroke="#ff0000" stroke-width="1.0"/>
<path d="M494.30 157.69L496.80 162.89L491.80 162.89Z" fill="none" stroke="#ff0000" stroke-width="1.0"/>
<path d="M505.94 152.64L508.44 157.84L503.44 157.84Z" fill="none" stroke="#ff0000" stroke-width="1.0"/>
<path d="M517.58 147.04L520.08 152.24L515.08 152.24Z" fill="none" stroke="#ff0000" stroke-width="1.0"/>
<path d="M529.22 142.06L531.72 147.26L526.72 147.26Z" fill="none" stroke="#ff0000" stroke-width="1.0"/>
<path d="M540.86 137.35L543.36 142.55L538.36 142.55Z" fill="none" stroke="#ff0000" stroke-width="1.0"/>
<polyline points="63.62,246.60 75.26,241.14 86.90,236.71 98.54,231.45 110.18,230.63 121.82,229.95 133.46,229.07 145.10,227.77 156.74,226.68 168.38,225.38 180.02,224.36 191.66,222.92 203.30,220.60 214.94,218.76 226.58,216.03 238.22,213.85 249.86,211.94 261.50,209.48 273.14,207.51 284.78,206.48 296.42,203.89 308.06,200.82 319.70,197.20 331.34,194.27 342.98,189.56 354.62,185.67 366.26,181.99 377.90,177.69 389.54,174.14 401.18,171.00 412.82,166.09 424.46,160.50 436.10,151.76 447.74,144.94 459.38,137.84 471.02,130.75 482.66,124.06 494.30,115.46 505.94,108.37 517.58,101.07 529.22,93.77 540.86,85.92" fill="none" stroke="#ff0000" stroke-width="1.5" stroke-dasharray="3.5 1.8" stroke-linejoin="round"/>
<rect x="72.96" y="238.84" width="4.60" height="4.60" fill="none" stroke="#ff0000" stroke-width="1.0"/>
<rect x="84.60" y="234.41" width="4.60" height="4.60" fill="none" stroke="#ff0000" stroke-width="1.0"/>
<rect x="96.24" y="229.15" width="4.60" height="4.60" fill="none" stroke="#ff0000" stroke-width="1.0"/>
<rect x="107.88" y="228.33" width="4.60" height="4.60" fill="none" stroke="#ff0000" stroke-width="1.0"/>
<rect x="119.52" y="227.65" width="4.60" height="4.60" fill="none" stroke="#ff0000" stroke-width="1.0"/>
<rect x="131.16" y="226.77" width="4.60" height="4.60" fill="none" stroke="#ff0000" stroke-width="1.0"/>
<rect x="142.80" y="225.47" width="4.60" height="4.60" fill="none" stroke="#ff0000" stroke-width="1.0"/>
<rect x="154.44" y="224.38" width="4.60" height="4.60" fill="none" stroke="#ff0000" stroke-width="1.0"/>
<rect x="166.08" y="223.08" width="4.60" height="4.60" fill="none" stroke="#ff0000" stroke-width="1.0"/>
<rect x="177.72" y="222.06" width="4.60" height="4.60" fill="none" stroke="#ff0000" stroke-width="1.0"/>
<rect x="189.36" y="220.62" width="4.60" height="4.60" fill="none" stroke="#ff0000" stroke-width="1.0"/>
<rect x="201.00" y="218.30" width="4.60" height="4.60" fill="none" stroke="#ff0000" stroke-width="1.0"/>
<rect x="212.64" y="216.46" width="4.60" height="4.60" fill="none" stroke="#ff0000" stroke-width="1.0"/>
<rect x="224.28" y="213.73" width="4.60" height="4.60" fill="none" stroke="#ff0000" stroke-width="1.0"/>
<rect x="235.92" y="211.55" width="4.60" height="4.60" fill="none" stroke="#ff0000" stroke-width="1.0"/>
<rect x="247.56" y="209.64" width="4.60" height="4.60" fill="none" stroke="#ff0000" stroke-width="1.0"/>
<rect x="259.20" y="207.18" width="4.60" height="4.60" fill="none" stroke="#ff0000" stroke-width="1.0"/>
<rect x="270.84" y="205.21" width="4.60" height="4.60" fill="none" stroke="#ff0000" stroke-width="1.0"/>
<rect x="282.48" y="204.18" width="4.60" height="4.60" fill="none" stroke="#ff0000" stroke-width="1.0"/>
<rect x="294.12" y="201.59" width="4.60" height="4.60" fill="none" stroke="#ff0000" stroke-width="1.0"/>
<rect x="305.76" y="198.52" width="4.60" height="4.60" fill="none" stroke="#ff0000" stroke-width="1.0"/>
<rect x="317.40" y="194.90" width="4.60" height="4.60" fill="none" stroke="#ff0000" stroke-width="1.0"/>
<rect x="329.04" y="191.97" width="4.60" height="4.60" fill="none" stroke="#ff0000" stroke-width="1.0"/>
<rect x="340.68" y="187.26" width="4.60" height="4.60" fill="none" stroke="#ff0000" stroke-width="1.0"/>
<rect x="352.32" y="183.37" width="4.60" height="4.60" fill="none" stroke="#ff0000" stroke-width="1.0"/>
<rect x="363.96" y="179.69" width="4.60" height="4.60" fill="none" stroke="#ff0000" stroke-width="1.0"/>
<rect x="375.60" y="175.39" width="4.60" height="4.60" fill="none" stroke="#ff0000" stroke-width="1.0"/>
<rect x="387.24" y="171.84" width="4.60" height="4.60" fill="none" stroke="#ff0000" stroke-width="1.0"/>
<rect x="398.88" y="168.70" width="4.60" height="4.60" fill="none" stroke="#ff0000" stroke-width="1.0"/>
<rect x="410.52" y="163.79" width="4.60" height="4.60" fill="none" stroke="#ff0000" stroke-width="1.0"/>
<rect x="422.16" y="158.20" width="4.60" height="4.60" fill="none" stroke="#ff0000" stroke-width="1.0"/>
<rect x="433.80" y="149.46" width="4.60" height="4.60" fill="none" stroke="#ff0000" stroke-width="1.0"/>
<rect x="445.44" y="142.64" width="4.60" height="4.60" fill="none" stroke="#ff0000" stroke-width="1.0"/>
<rect x="457.08" y="135.54" width="4.60" height="4.60" fill="none" stroke="#ff0000" stroke-width="1.0"/>
<rect x="468.72" y="128.45" width="4.60" height="4.60" fill="none" stroke="#ff0000" stroke-width="1.0"/>
<rect x="480.36" y="121.76" width="4.60" height="4.60" fill="none" stroke="#ff0000" stroke-width="1.0"/>
<rect x="492.00" y="113.16" width="4.60" height="4.60" fill="none" stroke="#ff0000" stroke-width="1.0"/>
<rect x="503.64" y="106.07" width="4.60" height="4.60" fill="none" stroke="#ff0000" stroke-width="1.0"/>
<rect x="515.28" y="98.77" width="4.60" height="4.60" fill="none" stroke="#ff0000" stroke-width="1.0"/>
<rect x="526.92" y="91.47" width="4.60" height="4.60" fill="none" stroke="#ff0000" stroke-width="1.0"/>
<rect x="538.56" y="83.62" width="4.60" height="4.60" fill="none" stroke="#ff0000" stroke-width="1.0"/>
<polyline points="63.62,246.60 75.26,239.23 86.90,234.11 98.54,228.04 110.18,227.09 121.82,226.20 133.46,225.04 145.10,222.99 156.74,221.08 168.38,219.31 180.02,218.35 191.66,216.92 203.30,213.51 214.94,210.78 226.58,207.98 238.22,205.59 249.86,202.80 261.50,200.34 273.14,198.09 284.78,195.43 296.42,192.70 308.06,189.90 319.70,184.78 331.34,180.08 342.98,175.51 354.62,170.66 366.26,165.68 377.90,160.50 389.54,155.65 401.18,151.42 412.82,146.17 424.46,138.12 436.10,128.43 447.74,119.90 459.38,110.14 471.02,100.59 482.66,90.36 494.30,81.62 505.94,72.82 517.58,63.07 529.22,53.17 540.86,44.10" fill="none" stroke="#ff0000" stroke-width="1.5" stroke-dasharray="3.5 1.8" stroke-linejoin="round"/>
<path d="M75.26 236.43L77.46 239.23L75.26 242.03L73.06 239.23Z" fill="none" stroke="#ff0000" stroke-width="1.0"/>
<path d="M86.90 231.31L89.10 234.11L86.90 236.91L84.70 234.11Z" fill="none" stroke="#ff0000" stroke-width="1.0"/>
<path d="M98.54 225.24L100.74 228.04L98.54 230.84L96.34 228.04Z" fill="none" stroke="#ff0000" stroke-width="1.0"/>
<path d="M110.18 224.29L112.38 227.09L110.18 229.89L107.98 227.09Z" fill="none" stroke="#ff0000" stroke-width="1.0"/>
<path d="M121.82 223.40L124.02 226.20L121.82 229.00L119.62 226.20Z" fill="none" stroke="#ff0000" stroke-width="1.0"/>
<path d="M133.46 222.24L135.66 225.04L133.46 227.84L131.26 225.04Z" fill="none" stroke="#ff0000" stroke-width="1.0"/>
<path d="M145.10 220.19L147.30 222.99L145.10 225.79L142.90 222.99Z" fill="none" stroke="#ff0000" stroke-width="1.0"/>
<path d="M156.74 218.28L158.94 221.08L156.74 223.88L154.54 221.08Z" fill="none" stroke="#ff0000" stroke-width="1.0"/>
<path d="M168.38 216.51L170.58 219.31L168.38 222.11L166.18 219.31Z" fill="none" stroke="#ff0000" stroke-width="1.0"/>
<path d="M180.02 215.55L182.22 218.35L180.02 221.15L177.82 218.35Z" fill="none" stroke="#ff0000" stroke-width="1.0"/>
<path d="M191.66 214.12L193.86 216.92L191.66 219.72L189.46 216.92Z" fill="none" stroke="#ff0000" stroke-width="1.0"/>
<path d="M203.30 210.71L205.50 213.51L203.30 216.31L201.10 213.51Z" fill="none" stroke="#ff0000" stroke-width="1.0"/>
<path d="M214.94 207.98L217.14 210.78L214.94 213.58L212.74 210.78Z" fill="none" stroke="#ff0000" stroke-width="1.0"/>
<path d="M226.58 205.18L228.78 207.98L226.58 210.78L224.38 207.98Z" fill="none" stroke="#ff0000" stroke-width="1.0"/>
<path d="M238.22 202.79L240.42 205.59L238.22 208.39L236.02 205.59Z" fill="none" stroke="#ff0000" stroke-width="1.0"/>
<path d="M249.86 200.00L252.06 202.80L249.86 205.60L247.66 202.80Z" fill="none" stroke="#ff0000" stroke-width="1.0"/>
<path d="M261.50 197.54L263.70 200.34L261.50 203.14L259.30 200.34Z" fill="none" stroke="#ff0000" stroke-width="1.0"/>
<path d="M273.14 195.29L275.34 198.09L273.14 200.89L270.94 198.09Z" fill="none" stroke="#ff0000" stroke-width="1.0"/>
<path d="M284.78 192.63L286.98 195.43L284.78 198.23L282.58 195.43Z" fill="none" stroke="#ff0000" stroke-width="1.0"/>
<path d="M296.42 189.90L298.62 192.70L296.42 195.50L294.22 192.70Z" fill="none" stroke="#ff0000" stroke-width="1.0"/>
<path d="M308.06 187.10L310.26 189.90L308.06 192.70L305.86 189.90Z" fill="none" stroke="#ff0000" stroke-width="1.0"/>
<path d="M319.70 181.98L321.90 184.78L319.70 187.58L317.50 184.78Z" fill="none" stroke="#ff0000" stroke-width="1.0"/>
<path d="M331.34 177.28L333.54 180.08L331.34 182.88L329.14 180.08Z" fill="none" stroke="#ff0000" stroke-width="1.0"/>
<path d="M342.98 172.71L345.18 175.51L342.98 178.31L340.78 175.51Z" fill="none" stroke="#ff0000" stroke-width="1.0"/>
<path d="M354.62 167.86L356.82 170.66L354.62 173.46L352.42 170.66Z" fill="none" stroke="#ff0000" stroke-width="1.0"/>
<path d="M366.26 162.88L368.46 165.68L366.26 168.48L364.06 165.68Z" fill="none" stroke="#ff0000" stroke-width="1.0"/>
<path d="M377.90 157.70L380.10 160.50L377.90 163.30L375.70 160.50Z" fill="none" stroke="#ff0000" stroke-width="1.0"/>
<path d="M389.54 152.85L391.74 155.65L389.54 158.45L387.34 155.65Z" fill="none" stroke="#ff0000" stroke-width="1.0"/>
<path d="M401.18 148.62L403.38 151.42L401.18 154.22L398.98 151.42Z" fill="none" stroke="#ff0000" stroke-width="1.0"/>
<path d="M412.82 143.37L415.02 146.17L412.82 148.97L410.62 146.17Z" fill="none" stroke="#ff0000" stroke-width="1.0"/>
<path d="M424.46 135.32L426.66 138.12L424.46 140.92L422.26 138.12Z" fill="none" stroke="#ff0000" stroke-width="1.0"/>
<path d="M436.10 125.63L438.30 128.43L436.10 131.23L433.90 128.43Z" fill="none" stroke="#ff0000" stroke-width="1.0"/>
<path d="M447.74 117.10L449.94 119.90L447.74 122.70L445.54 119.90Z" fill="none" stroke="#ff0000" stroke-width="1.0"/>
<path d="M459.38 107.34L461.58 110.14L459.38 112.94L457.18 110.14Z" fill="none" stroke="#ff0000" stroke-width="1.0"/>
<path d="M471.02 97.79L473.22 100.59L471.02 103.39L468.82 100.59Z" fill="none" stroke="#ff0000" stroke-width="1.0"/>
<path d="M482.66 87.56L484.86 90.36L482.66 93.16L480.46 90.36Z" fill="none" stroke="#ff0000" stroke-width="1.0"/>
<path d="M494.30 78.82L496.50 81.62L494.30 84.42L492.10 81.62Z" fill="none" stroke="#ff0000" stroke-width="1.0"/>
<path d="M505.94 70.02L508.14 72.82L505.94 75.62L503.74 72.82Z" fill="none" stroke="#ff0000" stroke-width="1.0"/>
<path d="M517.58 60.27L519.78 63.07L517.58 65.87L515.38 63.07Z" fill="none" stroke="#ff0000" stroke-width="1.0"/>
<path d="M529.22 50.37L531.42 53.17L529.22 55.97L527.02 53.17Z" fill="none" stroke="#ff0000" stroke-width="1.0"/>
<path d="M540.86 41.30L543.06 44.10L540.86 46.90L538.66 44.10Z" fill="none" stroke="#ff0000" stroke-width="1.0"/>
<rect x="60.92" y="244.00" width="5.4" height="5.2" fill="#ff0000"/>
<line x1="80" y1="25.25" x2="103.5" y2="25.25" stroke="#0000ff" stroke-width="1.5"/>
<path d="M91.40 22.45L93.60 25.25L91.40 28.05L89.20 25.25Z" fill="none" stroke="#0000ff" stroke-width="1.0"/>
<text x="107" y="29.55" class="lg">Output speed measured at engine speed of 1900 r/min</text>
<line x1="80" y1="44.10" x2="103.5" y2="44.10" stroke="#0000ff" stroke-width="1.5"/>
<rect x="89.10" y="41.80" width="4.60" height="4.60" fill="none" stroke="#0000ff" stroke-width="1.0"/>
<text x="107" y="48.40" class="lg">Output speed measured at engine speed of 1500 r/min</text>
<line x1="80" y1="62.95" x2="103.5" y2="62.95" stroke="#0000ff" stroke-width="1.5"/>
<path d="M91.40 60.55L93.90 65.75L88.90 65.75Z" fill="none" stroke="#0000ff" stroke-width="1.0"/>
<text x="107" y="67.25" class="lg">Output speed measured at engine speed of 1000 r/min</text>
<line x1="80" y1="81.80" x2="103.5" y2="81.80" stroke="#0000ff" stroke-width="1.5"/>
<path d="M88.90 79.30L93.90 84.30M93.90 79.30L88.90 84.30M91.40 78.80L91.40 84.80" fill="none" stroke="#0000ff" stroke-width="1.0"/>
<text x="107" y="86.10" class="lg">Output speed measured at engine speed of 750 r/min</text>
<line x1="80" y1="100.65" x2="103.5" y2="100.65" stroke="#ff0000" stroke-width="1.5" stroke-dasharray="3.5 1.6"/>
<path d="M91.40 97.85L93.60 100.65L91.40 103.45L89.20 100.65Z" fill="none" stroke="#ff0000" stroke-width="1.0"/>
<text x="107" y="104.95" class="lg">Output speed calculated at engine speed of 1900 r/min</text>
<line x1="80" y1="119.50" x2="103.5" y2="119.50" stroke="#ff0000" stroke-width="1.5" stroke-dasharray="3.5 1.6"/>
<rect x="89.10" y="117.20" width="4.60" height="4.60" fill="none" stroke="#ff0000" stroke-width="1.0"/>
<text x="107" y="123.80" class="lg">Output speed calculated at engine speed of 1500 r/min</text>
<line x1="80" y1="138.35" x2="103.5" y2="138.35" stroke="#ff0000" stroke-width="1.5" stroke-dasharray="3.5 1.6"/>
<path d="M91.40 135.95L93.90 141.15L88.90 141.15Z" fill="none" stroke="#ff0000" stroke-width="1.0"/>
<text x="107" y="142.65" class="lg">Output speed calculated at engine speed of 1000 r/min</text>
<line x1="80" y1="157.20" x2="103.5" y2="157.20" stroke="#ff0000" stroke-width="1.5" stroke-dasharray="3.5 1.6"/>
<path d="M88.90 154.70L93.90 159.70M93.90 154.70L88.90 159.70M91.40 154.20L91.40 160.20" fill="none" stroke="#ff0000" stroke-width="1.0"/>
<text x="107" y="161.50" class="lg">Output speed calculated at engine speed of 750 r/min</text>
<text x="183" y="280.2" class="at">Displacement ratio of PV and MF</text>
<text transform="translate(16.5 221.5) rotate(-90)" class="at">Output speed of CVT (r/min)</text>
</svg>
</body></html>
